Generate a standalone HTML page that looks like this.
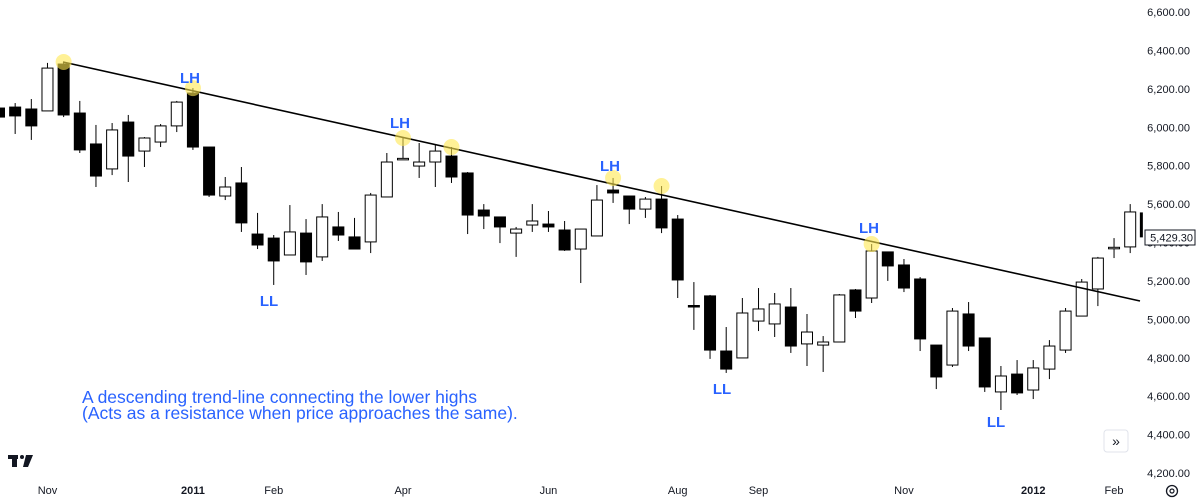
<!DOCTYPE html>
<html><head><meta charset="utf-8">
<style>
html,body{margin:0;padding:0;background:#fff;width:1200px;height:501px;overflow:hidden;font-family:"Liberation Sans",sans-serif;}
svg{display:block}
</style></head>
<body>
<svg id="chart" width="1200" height="501" viewBox="0 0 1200 501" xmlns="http://www.w3.org/2000/svg">
  <g id="candles"></g>
  <line x1="63" y1="62" x2="1140" y2="301" stroke="#000" stroke-width="1.6"/>
  <g id="highs"></g>
  <g id="yaxis" font-size="11" fill="#131722" text-anchor="end"></g>
  <g id="xaxis" font-size="11" fill="#131722" text-anchor="middle"></g>
  <g>
    <rect x="1145" y="230" width="50" height="15" fill="#fff" stroke="#131722" stroke-width="1"/>
    <text x="1193" y="241.5" font-size="11" fill="#131722" text-anchor="end">5,429.30</text>
  </g>
  <g font-size="15" font-weight="bold" fill="#2962ff" text-anchor="middle">
    <text x="190" y="83">LH</text>
    <text x="400" y="128">LH</text>
    <text x="610" y="171">LH</text>
    <text x="869" y="233">LH</text>
    <text x="269" y="306">LL</text>
    <text x="722" y="394">LL</text>
    <text x="996" y="427">LL</text>
  </g>
  <g font-size="17.5" fill="#2962ff">
    <text x="82" y="403">A descending trend-line connecting the lower highs</text>
    <text x="82" y="419">(Acts as a resistance when price approaches the same).</text>
  </g>
  <g fill="#131722">
    <rect x="8" y="455" width="10" height="4"/><rect x="12" y="455" width="5" height="12"/>
    <circle cx="22" cy="457" r="2"/><polygon points="26,455 33,455 28,467 23,467"/>
  </g>
  <g>
    <rect x="1104" y="430" width="24" height="22" rx="3" fill="#fff" stroke="#e0e3eb"/>
    <text x="1116" y="446" font-size="14" fill="#131722" text-anchor="middle">»</text>
  </g>
  <g>
    <circle cx="1172" cy="491" r="5.5" fill="none" stroke="#131722" stroke-width="1.3"/>
    <circle cx="1172" cy="491" r="2" fill="none" stroke="#131722" stroke-width="1.2"/>
  </g>
</svg>
<script>
const opens  = [6100,6105,6095,6085,6329,6074,5913,5783,6027,5876,5923,6007,6178,5897,5642,5710,5444,5423,5335,5449,5325,5481,5429,5403,5637,5835,5798,5819,5850,5762,5569,5533,5449,5491,5496,5465,5366,5434,5673,5642,5574,5626,5522,5072,5122,4835,4799,4991,4976,5064,4872,4866,4882,5153,5111,5351,5283,5210,4866,4762,5028,4903,4622,4715,4632,4741,4840,5017,5158,5371,5377,5554];
const highs  = [6115,6126,6147,6335,6340,6137,6012,6022,6064,5949,6017,6137,6204,5897,5741,5793,5554,5439,5595,5522,5600,5559,5528,5658,5866,5944,5918,5908,5897,5767,5600,5533,5481,5600,5564,5512,5470,5699,5736,5642,5637,5694,5543,5194,5127,4960,5111,5163,5137,5163,5028,4913,5132,5158,5392,5351,5314,5220,4866,5059,5090,4903,4757,4788,4788,4892,5059,5210,5325,5423,5600,5554];
const lows   = [6043,5965,5934,6085,6053,5866,5689,5751,5715,5793,5897,5975,5882,5637,5621,5455,5366,5179,5335,5231,5304,5408,5366,5345,5637,5830,5736,5689,5710,5444,5470,5397,5325,5455,5455,5356,5189,5434,5606,5496,5528,5449,5111,4945,4794,4721,4799,4939,4908,4825,4757,4726,4882,5007,5085,5200,5142,4835,4637,4752,4835,4622,4528,4606,4585,4689,4825,5017,5069,5319,5345,5429];
const closes = [6053,6059,6007,6308,6064,5882,5746,5986,5850,5944,6007,6131,5897,5647,5689,5502,5387,5304,5455,5299,5533,5439,5366,5647,5819,5838,5819,5876,5741,5543,5538,5481,5470,5512,5481,5361,5470,5621,5658,5574,5626,5476,5205,5069,4840,4741,5033,5054,5080,4861,4934,4882,5127,5043,5356,5278,5163,4898,4700,5043,4861,4648,4705,4617,4747,4861,5043,5194,5319,5375,5559,5429.3];
const priceTicks = [6600,6400,6200,6000,5800,5600,5400,5200,5000,4800,4600,4400,4200];
const timeLabels = ["Nov","2011","Feb","Apr","Jun","Aug","Sep","Nov","2012","Feb"];
const timeIndex  = [3,12,17,25,34,42,47,56,64,69];
const highlightIdx = [4,12,25,28,38,41,54];

const NS="http://www.w3.org/2000/svg";
const yS = p => 12 + (6600 - p) * 461/2400;
const xS = i => -1 + i * 16.16;
function mk(tag, attrs, parent){const e=document.createElementNS(NS,tag);for(const k in attrs)e.setAttribute(k,attrs[k]);parent.appendChild(e);return e;}

const cg=document.getElementById('candles');
opens.forEach((o,i)=>{
  const c=closes[i], up=c>=o, last=i===opens.length-1;
  const x=last?xS(i)-5:xS(i);
  const g=mk('g',{},cg);
  
  
  const w=mk('line',{x1:x,x2:x,y1:yS(highs[i]),y2:yS(lows[i]),stroke:'#000','stroke-width':1},g);
  
  
  const bw=last?2:11;
  const top=yS(Math.max(o,c)), h=Math.max(1.5,yS(Math.min(o,c))-top);
  const b=mk('rect',{x:x-bw/2,y:top,width:bw,height:h,fill:up?'#fff':'#000',stroke:'#000','stroke-width':1},g);
  
  
});

const hg=document.getElementById('highs');
highlightIdx.forEach(i=>{
  const c=mk('circle',{cx:xS(i),cy:yS(highs[i]),r:8,fill:'rgba(255,232,80,0.6)'},hg);
  
  
});

const ya=document.getElementById('yaxis');
priceTicks.forEach(p=>{
  const t=mk('text',{x:1190,y:yS(p)+4},ya);
  
  
  t.textContent=p.toLocaleString('en-US',{minimumFractionDigits:2});
});

const xa=document.getElementById('xaxis');
timeLabels.forEach((l,k)=>{
  const t=mk('text',{x:xS(timeIndex[k]),y:494},xa);
  
  
  if(/^\d{4}$/.test(l))t.setAttribute('font-weight','bold');
  t.textContent=l;
});
</script>
</body></html>
